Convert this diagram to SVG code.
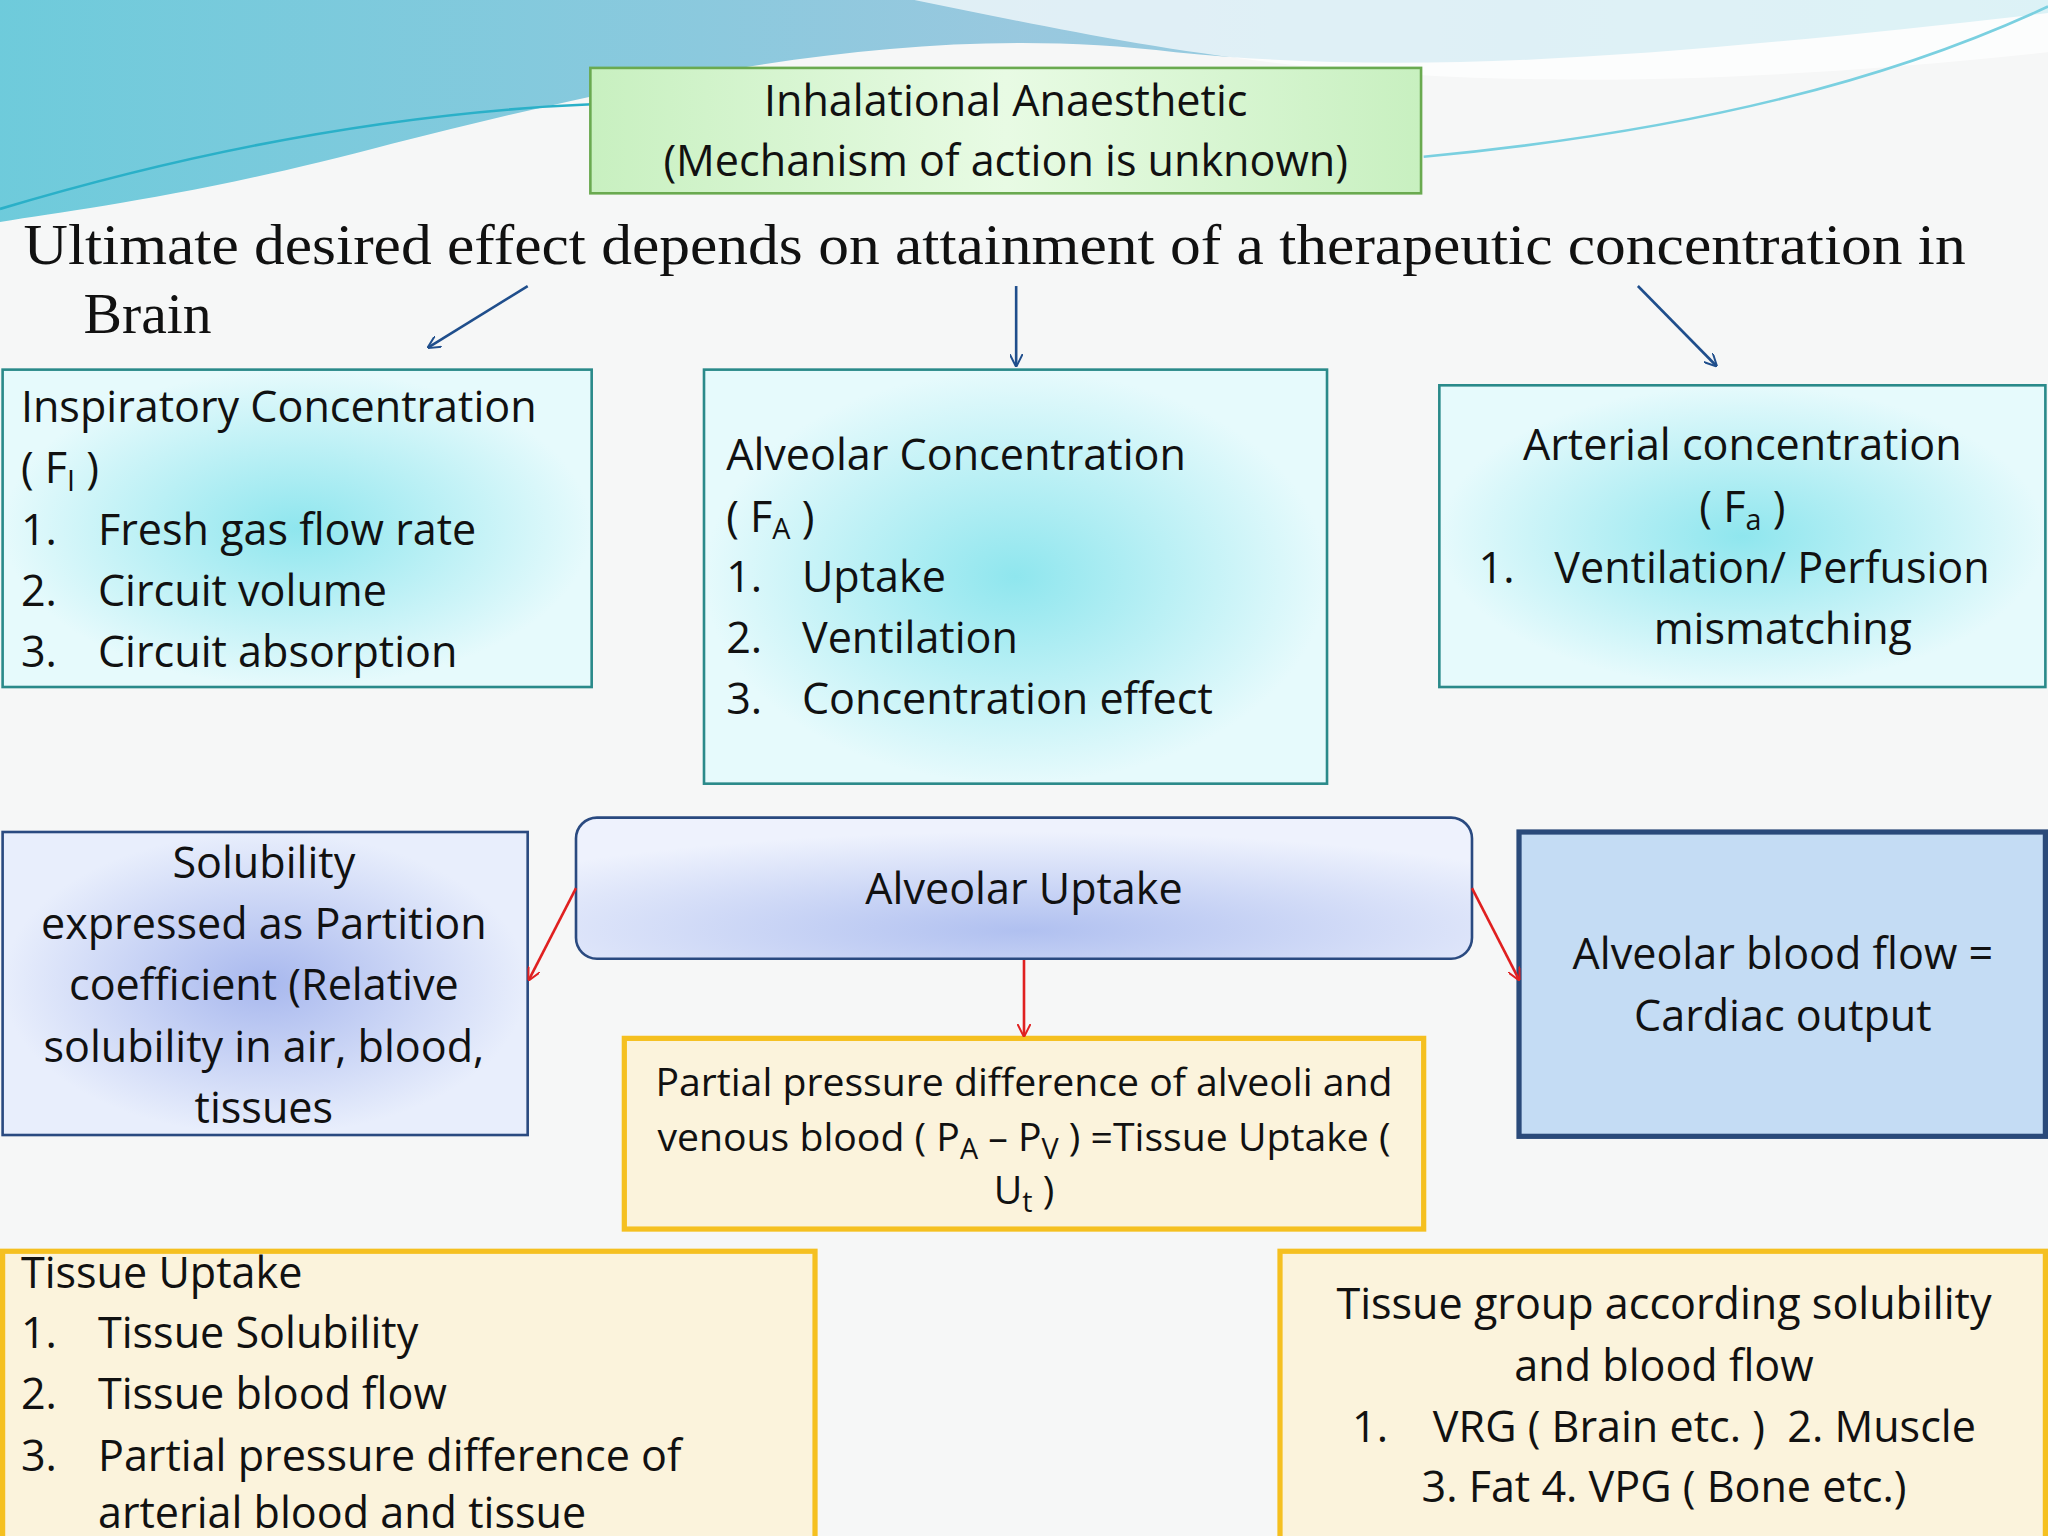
<svg xmlns="http://www.w3.org/2000/svg" width="2048" height="1536" viewBox="0 0 2048 1536">
<defs>
<linearGradient id="sky" x1="0" y1="0" x2="1" y2="0"><stop offset="0" stop-color="#5fc6d8"/><stop offset="0.5" stop-color="#8ec3dc"/><stop offset="1" stop-color="#7fd0e0"/></linearGradient>
<linearGradient id="green" x1="0" y1="0" x2="1" y2="0"><stop offset="0" stop-color="#c8f0c0"/><stop offset="0.5" stop-color="#e8fbe4"/><stop offset="1" stop-color="#c8f0c0"/></linearGradient>
<radialGradient id="cyan"><stop offset="0" stop-color="#8fe6ee"/><stop offset="1" stop-color="#e6fafc"/></radialGradient>
<radialGradient id="blue"><stop offset="0" stop-color="#a8b8ee"/><stop offset="1" stop-color="#e8eefc"/></radialGradient>
<radialGradient id="blue2" cx="0.5" cy="0.8" r="0.7"><stop offset="0" stop-color="#b0c0f0"/><stop offset="1" stop-color="#eef2fd"/></radialGradient>
<marker id="ab" markerWidth="10" markerHeight="10" refX="9" refY="5" orient="auto" markerUnits="userSpaceOnUse"><path d="M0,0 L10,5 L0,10" fill="none" stroke="#1f4e8c" stroke-width="1.5"/></marker>
<marker id="ar" markerWidth="10" markerHeight="10" refX="9" refY="5" orient="auto" markerUnits="userSpaceOnUse"><path d="M0,0 L10,5 L0,10" fill="none" stroke="#e02020" stroke-width="1.5"/></marker>
<style>
.t{font-family:"Open Sans","Liberation Sans",sans-serif;font-size:33px;fill:#111}
.c{text-anchor:middle}
.s{font-size:22px}
.box{stroke:#2a8a8a;stroke-width:2}
.y{fill:#fbf3dc;stroke:#f5c020;stroke-width:4}
</style>
</defs>
<rect width="2048" height="1536" fill="#f6f7f7"/>
<g transform="scale(1.30612)">
<path d="M0,0 H1568 V10 C1300,40 1100,60 900,40 C700,15 500,60 300,110 C150,150 60,160 0,170 Z" fill="url(#sky)" opacity="0.9"/>
<path d="M700,0 C900,40 1100,90 1568,40 L1568,0 Z" fill="#ffffff" opacity="0.7"/>
<path d="M0,160 C200,100 400,70 600,80" stroke="#2ab0c8" stroke-width="2" fill="none"/>
<path d="M1090,120 C1300,100 1450,60 1568,5" stroke="#7ad0e0" stroke-width="2" fill="none"/>

<g id="top"><rect x="452" y="52" width="636" height="96" fill="url(#green)" stroke="#6aaa50" stroke-width="2"/>
<text class="t c" x="770" y="89" font-size="37">Inhalational Anaesthetic</text>
<text class="t c" x="770" y="135" font-size="37">(Mechanism of action is unknown)</text></g>

<g id="title"><text x="18" y="202" font-family="Liberation Serif,serif" font-size="43" fill="#111" textLength="1487" lengthAdjust="spacingAndGlyphs">Ultimate desired effect depends on attainment of a therapeutic concentration in</text>
<text x="64" y="255" font-family="Liberation Serif,serif" font-size="43" fill="#111" textLength="98" lengthAdjust="spacingAndGlyphs">Brain</text></g>

<g id="n1"><rect x="2" y="283" width="451" height="243" fill="url(#cyan)" class="box"/>
<g class="t"><text x="16" y="323">Inspiratory Concentration</text>
<text x="16" y="370">( F<tspan class="s" dy="6">I</tspan><tspan dy="-6"> )</tspan></text>
<text x="16" y="417">1.</text><text x="75" y="417">Fresh gas flow rate</text>
<text x="16" y="464">2.</text><text x="75" y="464">Circuit volume</text>
<text x="16" y="511">3.</text><text x="75" y="511">Circuit absorption</text></g></g>

<g id="n2"><rect x="539" y="283" width="477" height="317" fill="url(#cyan)" class="box"/>
<g class="t"><text x="556" y="360">Alveolar Concentration</text>
<text x="556" y="407">( F<tspan class="s" dy="6">A</tspan><tspan dy="-6"> )</tspan></text>
<text x="556" y="453">1.</text><text x="614" y="453">Uptake</text>
<text x="556" y="500">2.</text><text x="614" y="500">Ventilation</text>
<text x="556" y="547">3.</text><text x="614" y="547">Concentration effect</text></g></g>

<g id="n3"><rect x="1102" y="295" width="464" height="231" fill="url(#cyan)" class="box"/>
<g class="t"><text class="c" x="1334" y="352">Arterial concentration</text>
<text class="c" x="1334" y="400">( F<tspan class="s" dy="6">a</tspan><tspan dy="-6"> )</tspan></text>
<text x="1132" y="446">1.</text><text x="1190" y="446">Ventilation/ Perfusion</text>
<text class="c" x="1365" y="493">mismatching</text></g></g>

<g id="n4"><rect x="2" y="637" width="402" height="232" fill="url(#blue)" stroke="#2a4a80" stroke-width="2"/>
<g class="t c"><text x="202" y="672">Solubility</text><text x="202" y="719">expressed as Partition</text><text x="202" y="766">coefficient (Relative</text><text x="202" y="813">solubility in air, blood,</text><text x="202" y="860">tissues</text></g></g>

<g id="n5"><rect x="441" y="626" width="686" height="108" rx="16" fill="url(#blue2)" stroke="#2a4a80" stroke-width="2"/>
<text class="t c" x="784" y="692">Alveolar Uptake</text></g>

<g id="n6"><rect x="1163" y="637" width="403" height="233" fill="#c4dcf4" stroke="#2a4a7a" stroke-width="4"/>
<g class="t c"><text x="1365" y="742">Alveolar blood flow =</text><text x="1365" y="789">Cardiac output</text></g></g>

<g id="n7"><rect x="478" y="795" width="612" height="146" class="y"/>
<g class="t c"><text x="784" y="839" font-size="30">Partial pressure difference of alveoli and</text>
<text x="784" y="881" font-size="30">venous blood ( P<tspan class="s" dy="6">A</tspan><tspan dy="-6"> – P</tspan><tspan class="s" dy="6">V</tspan><tspan dy="-6"> ) =Tissue Uptake (</tspan></text>
<text x="784" y="922" font-size="30">U<tspan class="s" dy="6">t</tspan><tspan dy="-6"> )</tspan></text></g></g>

<g id="n8"><rect x="2" y="958" width="622" height="230" class="y"/>
<g class="t"><text x="16" y="986">Tissue Uptake</text>
<text x="16" y="1032">1.</text><text x="75" y="1032">Tissue Solubility</text>
<text x="16" y="1079">2.</text><text x="75" y="1079">Tissue blood flow</text>
<text x="16" y="1126">3.</text><text x="75" y="1126">Partial pressure difference of</text>
<text x="75" y="1170">arterial blood and tissue</text></g></g>

<g id="n9"><rect x="980" y="958" width="586" height="230" class="y"/>
<g class="t c"><text x="1274" y="1010">Tissue group according solubility</text>
<text x="1274" y="1057">and blood flow</text>
<text x="1274" y="1104" xml:space="preserve">1.    VRG ( Brain etc. )  2. Muscle</text>
<text x="1274" y="1150">3. Fat 4. VPG ( Bone etc.)</text></g></g>

<g id="connectors" fill="none" stroke-width="2">
<path d="M404,219 L328,266" stroke="#1f4e8c" marker-end="url(#ab)"/>
<path d="M778,219 L778,280" stroke="#1f4e8c" marker-end="url(#ab)"/>
<path d="M1254,219 L1314,280" stroke="#1f4e8c" marker-end="url(#ab)"/>
<path d="M441,680 L405,750" stroke="#e02020" marker-end="url(#ar)"/>
<path d="M784,735 L784,793" stroke="#e02020" marker-end="url(#ar)"/>
<path d="M1127,680 L1163,750" stroke="#e02020" marker-end="url(#ar)"/>
</g>
</g>
</svg>
